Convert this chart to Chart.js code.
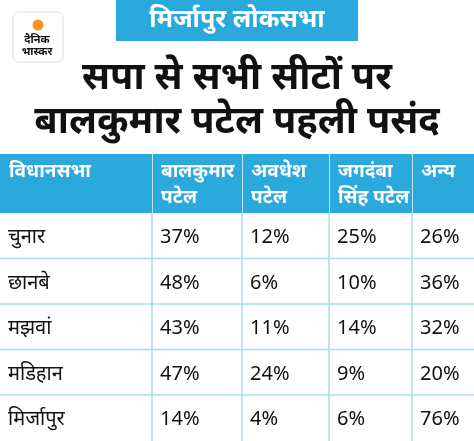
<!DOCTYPE html>
<html><head><meta charset="utf-8">
<script src="https://cdn.jsdelivr.net/npm/chart.js@4"></script>
<style>html,body{margin:0;padding:0;background:#fff}canvas{display:block}</style>
</head><body>
<canvas id="c" width="474" height="441"></canvas>
<script>
const title = "मिर्जापुर लोकसभा";
const headline = ["सपा से सभी सीटों पर", "बालकुमार पटेल पहली पसंद"];
const headers = [["विधानसभा"], ["बालकुमार", "पटेल"], ["अवधेश", "पटेल"], ["जगदंबा", "सिंह पटेल"], ["अन्य"]];
const seats = ["चुनार", "छानबे", "मझवां", "मडिहान", "मिर्जापुर"];
const balkumar = [37, 48, 43, 47, 14];
const awadhesh = [12, 6, 11, 24, 4];
const jagdamba = [25, 10, 14, 9, 6];
const others = [26, 36, 32, 20, 76];

const F = '"Noto Sans","Noto Sans Devanagari","Lohit Devanagari",sans-serif';
const BLUE = '#2aa9dd';
const colX = [0, 152, 242, 329, 412, 474];
const rowTop = 213, rowH = 45.5;

const tablePlugin = {
  id: 'table',
  afterDraw(chart) {
    const ctx = chart.ctx;
    ctx.save();
    ctx.fillStyle = '#fff'; ctx.strokeStyle = '#ddd'; ctx.lineWidth = 1;
    ctx.beginPath(); ctx.roundRect(13, 12, 50, 50, 6); ctx.fill(); ctx.stroke();
    ctx.fillStyle = '#f7941d'; ctx.beginPath(); ctx.arc(38, 25, 5.5, 0, Math.PI * 2); ctx.fill();
    ctx.fillStyle = '#111'; ctx.font = 'bold 11px ' + F; ctx.textAlign = 'center'; ctx.textBaseline = 'middle';
    ctx.fillText('दैनिक', 37, 40); ctx.fillText('भास्कर', 37, 52);
    ctx.fillStyle = BLUE; ctx.fillRect(116, 0, 242, 41);
    ctx.fillStyle = '#fff'; ctx.font = 'bold 25px ' + F;
    ctx.fillText(title, 237, 20);
    ctx.fillStyle = '#111'; ctx.font = 'bold 38px ' + F;
    ctx.fillText(headline[0], 237, 78);
    ctx.fillText(headline[1], 237, 122);
    ctx.fillStyle = BLUE; ctx.fillRect(0, 154, 474, 59);
    ctx.fillStyle = '#fff'; ctx.font = 'bold 19px ' + F; ctx.textAlign = 'left';
    headers.forEach((h, i) => h.forEach((t, j) => ctx.fillText(t, colX[i] + 9, 172 + j * 26)));
    ctx.strokeStyle = 'rgba(255,255,255,0.7)'; ctx.lineWidth = 1;
    for (let i = 1; i < 5; i++) { ctx.beginPath(); ctx.moveTo(colX[i] + .5, 154); ctx.lineTo(colX[i] + .5, 213); ctx.stroke(); }
    ctx.strokeStyle = '#a9dcef'; ctx.lineWidth = 1.5;
    for (let i = 1; i < 5; i++) { ctx.beginPath(); ctx.moveTo(colX[i], rowTop); ctx.lineTo(colX[i], 441); ctx.stroke(); }
    ctx.font = '20px ' + F; ctx.fillStyle = '#111';
    seats.forEach((s, r) => {
      const y = rowTop + r * rowH;
      if (r > 0) { ctx.beginPath(); ctx.moveTo(0, y); ctx.lineTo(474, y); ctx.stroke(); }
      const cy = y + rowH / 2 + 2;
      const vals = [s, balkumar[r] + '%', awadhesh[r] + '%', jagdamba[r] + '%', others[r] + '%'];
      vals.forEach((v, i) => ctx.fillText(v, colX[i] + 8, cy));
    });
    ctx.restore();
  }
};

new Chart(document.getElementById('c'), {
  type: 'bar',
  data: { labels: seats, datasets: [{ data: balkumar, backgroundColor: 'rgba(0,0,0,0)' }] },
  options: {
    responsive: false, animation: false,
    plugins: { legend: { display: false }, tooltip: { enabled: false } },
    scales: { x: { display: false }, y: { display: false } }
  },
  plugins: [tablePlugin]
});
</script>
</body></html>
